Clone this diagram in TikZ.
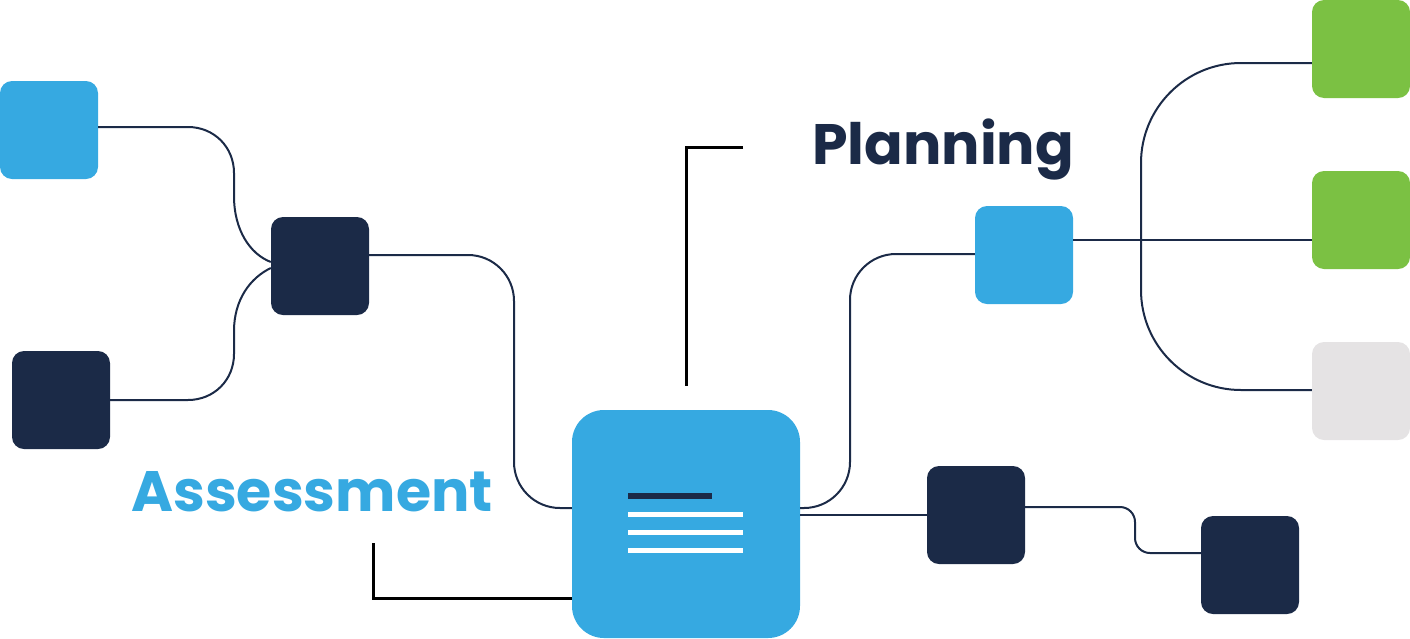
\documentclass[tikz,border=0pt]{standalone}
\usepackage{fontspec}
\newfontfamily\pop{Poppins}
\definecolor{cblue}{HTML}{36A9E1}
\definecolor{cdark}{HTML}{1B2A47}
\definecolor{cgreen}{HTML}{7BC143}
\definecolor{cgrey}{HTML}{E5E3E4}
\begin{document}
\begin{tikzpicture}[x=1pt,y=-1pt,
  box/.style={minimum size=98pt,inner sep=0pt,rounded corners=12pt,draw=none},
  con/.style={draw=cdark,line width=2pt},
  brk/.style={draw=black,line width=3pt}]
\useasboundingbox (0,0) rectangle (1410,638);
\node[box,fill=cblue] (tl) at (49,130) {};
\node[box,fill=cdark] (bl) at (61,400) {};
\node[box,fill=cdark] (dm) at (320,266) {};
\node[box,fill=cblue,minimum size=228pt,rounded corners=32pt] (c) at (686,524) {};
\node[box,fill=cblue] (rb) at (1024,255) {};
\node[box,fill=cgreen] (g1) at (1361,49) {};
\node[box,fill=cgreen] (g2) at (1361,220) {};
\node[box,fill=cgrey] (g3) at (1361,391) {};
\node[box,fill=cdark] (d1) at (976,515) {};
\node[box,fill=cdark] (d2) at (1250,565) {};
% connectors
\draw[con] (tl.east|-0,127) -- (188,127) .. controls (214,127) and (234,147) .. (234,173) -- (234,196) .. controls (234,230) and (250,254) .. (dm.west|-0,262);
\draw[con] (bl.east|-0,400) -- (188,400) .. controls (214,400) and (234,380) .. (234,354) -- (234,331) .. controls (234,300) and (250,278) .. (dm.west|-0,268);
\draw[con,rounded corners=46pt] (dm.east|-0,255) -- (514,255) -- (514,508) -- (c.west|-0,508);
\draw[con,rounded corners=46pt] (c.east|-0,508) -- (850,508) -- (850,254) -- (rb.west|-0,254);
\draw[con] (c.east|-0,515) -- (d1.west|-0,515);
\draw[con] (rb.east|-0,240) -- (g2.west|-0,240);
\draw[con,rounded corners=100pt] (g1.west|-0,63) -- (1141,63) -- (1141,390) -- (g3.west|-0,390);
\draw[con,rounded corners=15pt] (d1.east|-0,507) -- (1135,507) -- (1135,553) -- (d2.west|-0,553);
% brackets
\coordinate (p1) at (743,147);
\coordinate (p2) at (686,386);
\draw[brk] (p1) -- (686,147) -- (p2);
\coordinate (a1) at (373,543);
\draw[brk] (a1) -- (373,598) -- (c.west|-0,598);
% icon
\draw[cdark,line width=6pt] (628,496) -- (712,496);
\foreach \yy in {514,532,550} \draw[white,line width=5pt] (628,\yy) -- (743,\yy);
% text
\node[font=\pop\bfseries\fontsize{57}{66}\selectfont,text=cdark,inner sep=0pt] (pl) at (943,150) {Planning};
\node[font=\pop\bfseries\fontsize{57}{66}\selectfont,text=cblue,inner sep=0pt] (as) at (312,492) {Assessment};
\end{tikzpicture}
\end{document}
